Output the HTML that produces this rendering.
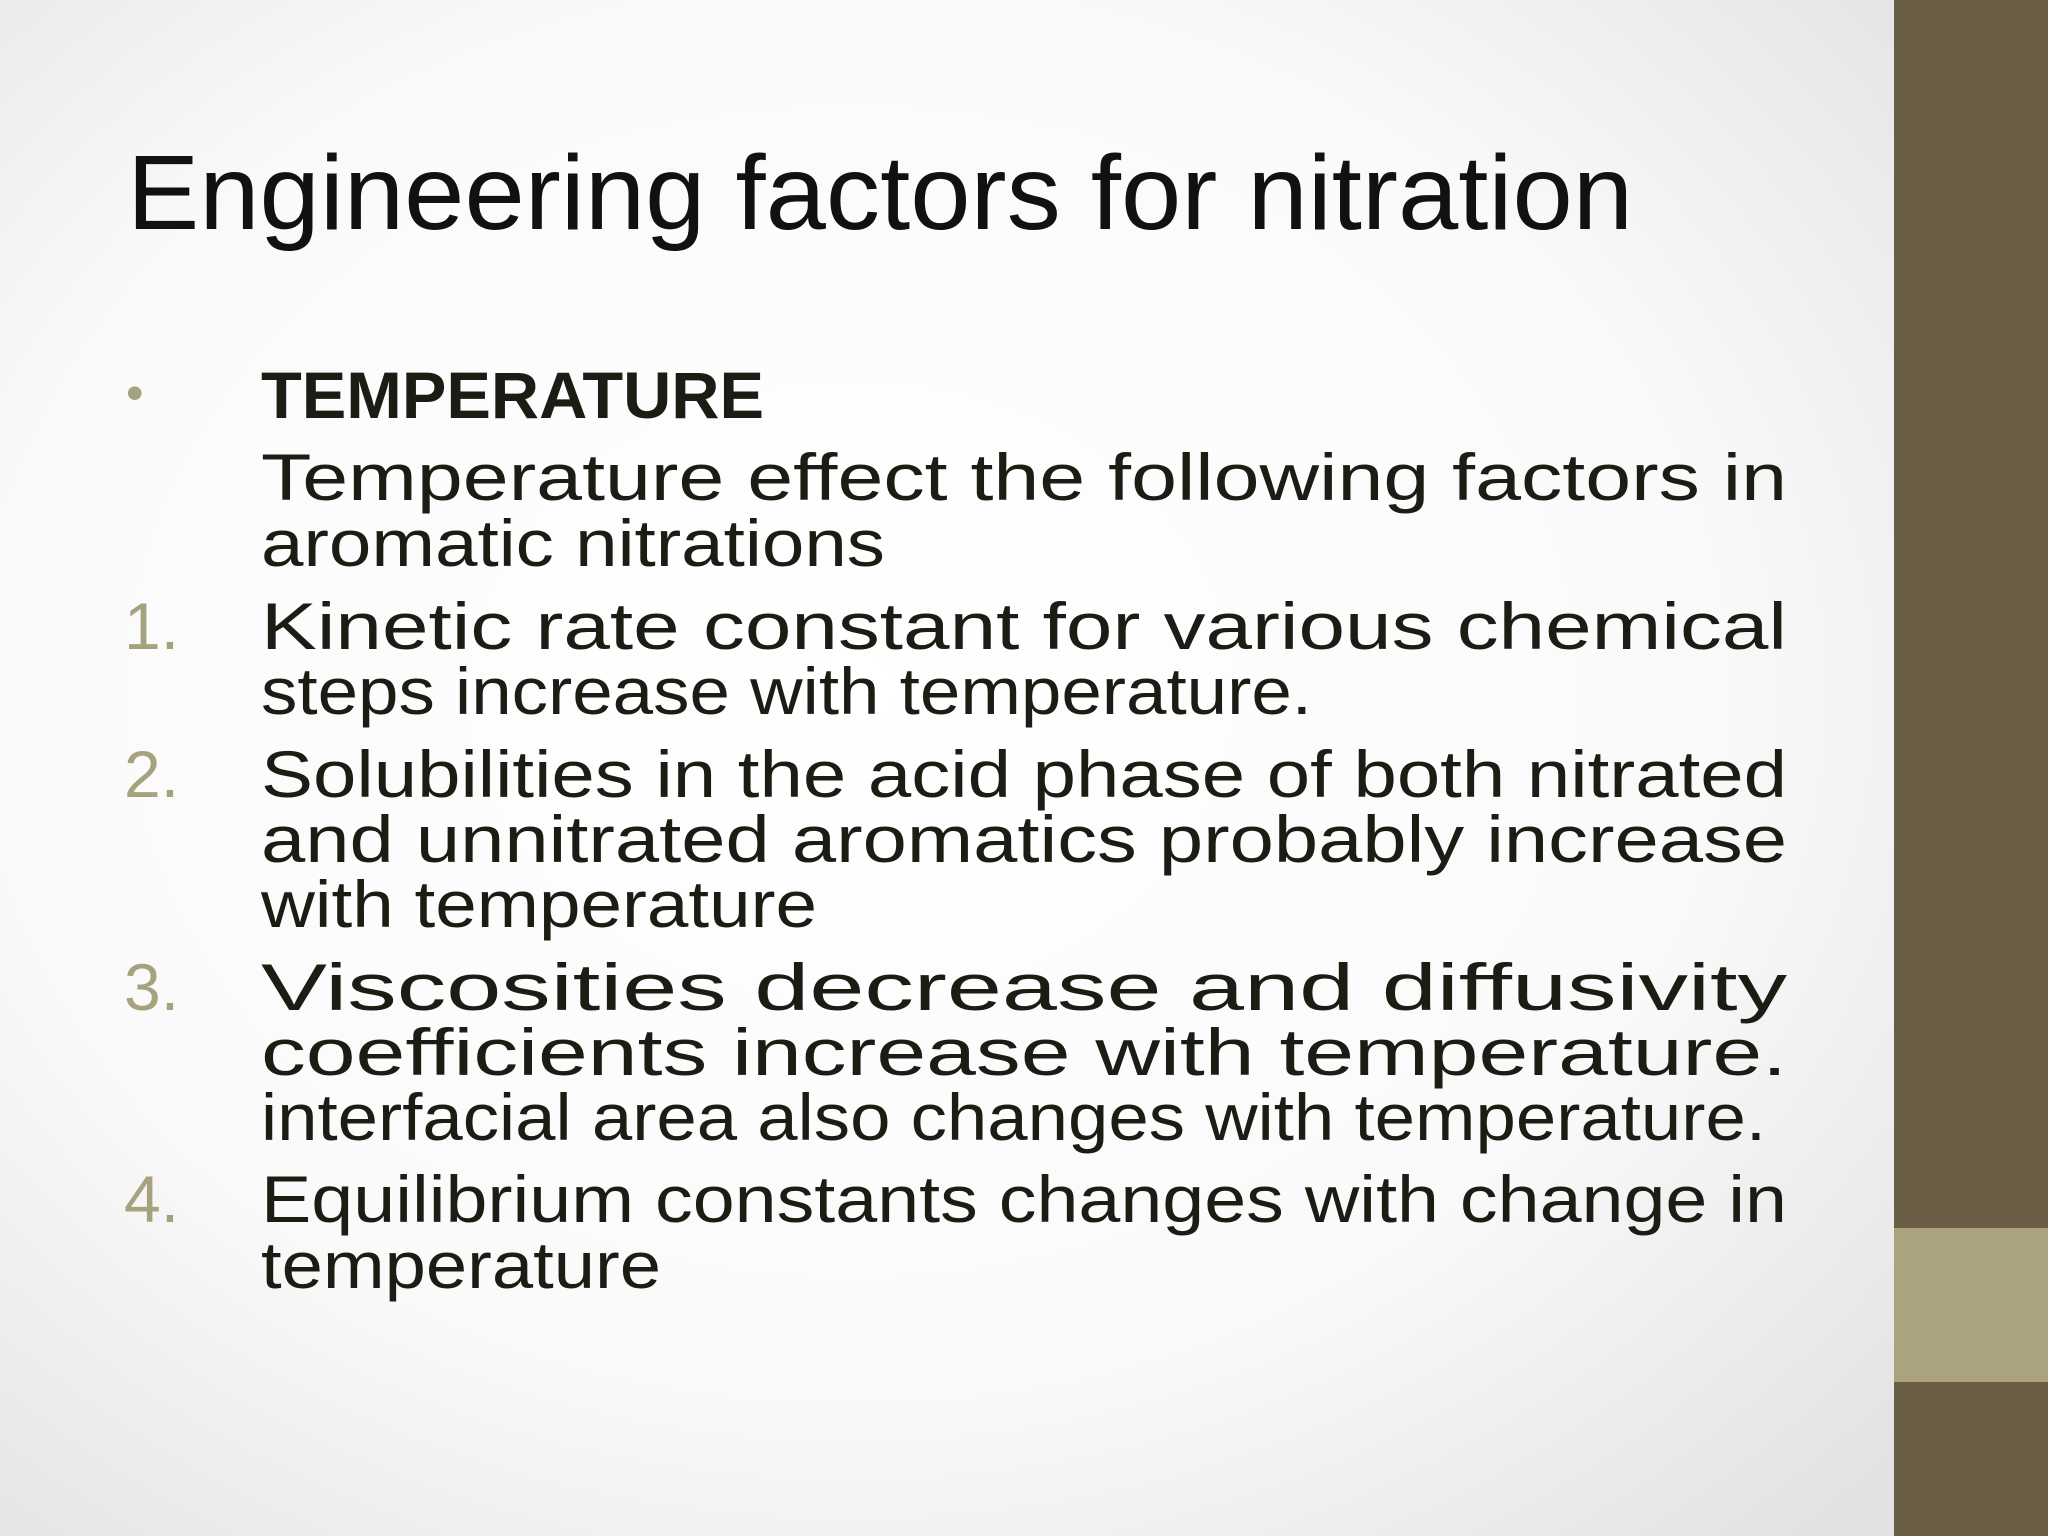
<!DOCTYPE html>
<html><head><meta charset="utf-8"><style>
html,body{margin:0;padding:0;}
body{width:2048px;height:1536px;overflow:hidden;}
svg{display:block;}
text{font-family:"Liberation Sans",sans-serif;}
</style></head><body>
<svg width="2048" height="1536" viewBox="0 0 2048 1536">
<defs>
<radialGradient id="bg" cx="0.45" cy="0.45" r="0.75">
<stop offset="0" stop-color="#ffffff"/><stop offset="0.6" stop-color="#fafafa"/><stop offset="1" stop-color="#e2e2e2"/>
</radialGradient>
</defs>
<rect width="1894" height="1536" fill="url(#bg)"/>
<rect x="1894" y="0" width="154" height="1536" fill="#6b5e47"/>
<rect x="1894" y="1228" width="154" height="154" fill="#aaa37e"/>

<text x="127" y="229" font-size="106" fill="#111" textLength="1506" lengthAdjust="spacingAndGlyphs">Engineering factors for  nitration</text>

<g fill="#1c1c14" font-size="66">
<text x="126" y="410" fill="#a6a27e" font-size="50">•</text>
<text x="261" y="418" font-weight="bold" textLength="503" lengthAdjust="spacingAndGlyphs">TEMPERATURE</text>
<text x="261" y="500" textLength="1526" lengthAdjust="spacingAndGlyphs">Temperature  effect  the  following  factors  in</text>
<text x="261" y="566" textLength="624" lengthAdjust="spacingAndGlyphs">aromatic  nitrations</text>

<text x="124" y="649" fill="#a6a27e">1.</text>
<text x="261" y="649" textLength="1526" lengthAdjust="spacingAndGlyphs">Kinetic  rate  constant   for  various   chemical</text>
<text x="261" y="714" textLength="1051" lengthAdjust="spacingAndGlyphs">steps increase with temperature.</text>

<text x="124" y="797" fill="#a6a27e">2.</text>
<text x="261" y="797" textLength="1526" lengthAdjust="spacingAndGlyphs">Solubilities in the acid phase of both nitrated</text>
<text x="261" y="862" textLength="1526" lengthAdjust="spacingAndGlyphs">and  unnitrated  aromatics  probably  increase</text>
<text x="261" y="927" textLength="556" lengthAdjust="spacingAndGlyphs">with temperature</text>

<text x="124" y="1010" fill="#a6a27e">3.</text>
<text x="261" y="1010" textLength="1526" lengthAdjust="spacingAndGlyphs">Viscosities       decrease       and       diffusivity</text>
<text x="261" y="1075" textLength="1526" lengthAdjust="spacingAndGlyphs">coefficients    increase    with    temperature.</text>
<text x="261" y="1140" textLength="1505" lengthAdjust="spacingAndGlyphs">interfacial area also changes with temperature.</text>

<text x="124" y="1222" fill="#a6a27e">4.</text>
<text x="261" y="1222" textLength="1526" lengthAdjust="spacingAndGlyphs">Equilibrium  constants  changes  with  change  in</text>
<text x="261" y="1288" textLength="400" lengthAdjust="spacingAndGlyphs">temperature</text>
</g>
</svg>
</body></html>
